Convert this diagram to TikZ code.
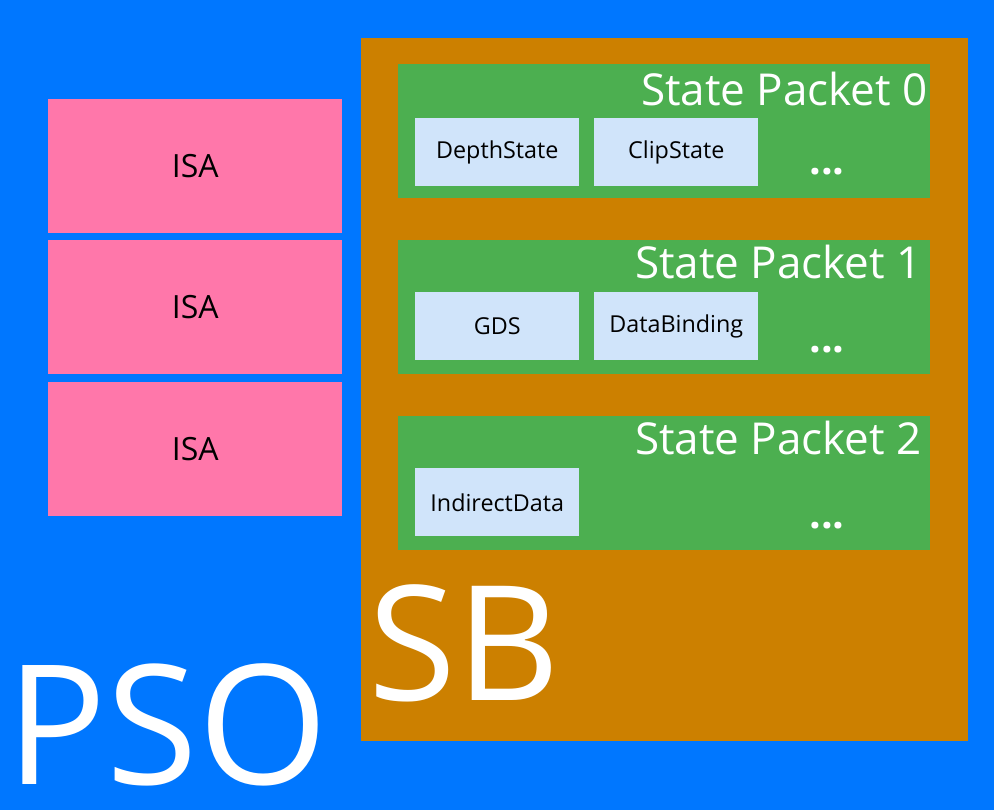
\documentclass[tikz,border=0pt]{standalone}
\usepackage{fontspec}
\setmainfont{Open Sans}
\definecolor{bg}{HTML}{0077FF}
\definecolor{sb}{HTML}{CC8000}
\definecolor{gr}{HTML}{4CAF50}
\definecolor{lb}{HTML}{D0E4FA}
\definecolor{pk}{HTML}{FF77AA}
\begin{document}
\begin{tikzpicture}[x=0.75pt,y=-0.75pt,
 isabox/.style={fill=pk,draw=none,minimum width=294*0.75pt,minimum height=134*0.75pt,inner sep=0,font=\fontsize{24}{24}\selectfont},
 pkt/.style={fill=gr,draw=none,minimum width=532*0.75pt,minimum height=134*0.75pt,inner sep=0},
 itm/.style={fill=lb,draw=none,minimum width=164*0.75pt,minimum height=68*0.75pt,inner sep=0,font=\fontsize{17.5}{17.5}\selectfont},
 ttl/.style={text=white,anchor=north east,inner sep=0,font=\fontsize{33}{33}\selectfont},
 dots/.style={text=white,inner sep=0,font=\bfseries\fontsize{31}{31}\selectfont}]
\fill[bg] (0,0) rectangle (994,810);
\node[fill=sb,minimum width=607*0.75pt,minimum height=703*0.75pt,inner sep=0,anchor=north west] (sbbox) at (361,38) {};
\node[isabox,anchor=north west] (isa0) at (48,99) {ISA};
\node[isabox,anchor=north west] (isa1) at (48,240) {ISA};
\node[isabox,anchor=north west] (isa2) at (48,382) {ISA};
\foreach \i/\y in {0/64,1/240,2/416}{
 \node[pkt,anchor=north west] (p\i) at (398,\y) {};
}
\node[ttl] (t0) at (928,72) {State Packet 0};
\node[ttl] (t1) at (922,245) {State Packet 1};
\node[ttl] (t2) at (922,421) {State Packet 2};
\node[itm,anchor=north west] (a0) at (415,118) {DepthState};
\node[itm,anchor=north west] (b0) at (594,118) {ClipState};
\node[itm,anchor=north west] (a1) at (415,292) {GDS};
\node[itm,anchor=north west] (b1) at (594,292) {DataBinding};
\node[itm,anchor=north west] (a2) at (415,468) {IndirectData};
\node[dots] (d0) at (827,172) {...};
\node[dots] (d1) at (827,350) {...};
\node[dots] (d2) at (827,526) {...};
\node[text=white,anchor=base west,inner sep=0,font=\fontsize{120}{120}\selectfont] (sbl) at (368,700) {SB};
\node[text=white,anchor=base west,inner sep=0,font=\fontsize{125}{125}\selectfont] (pso) at (6,784) {PSO};
\end{tikzpicture}
\end{document}
